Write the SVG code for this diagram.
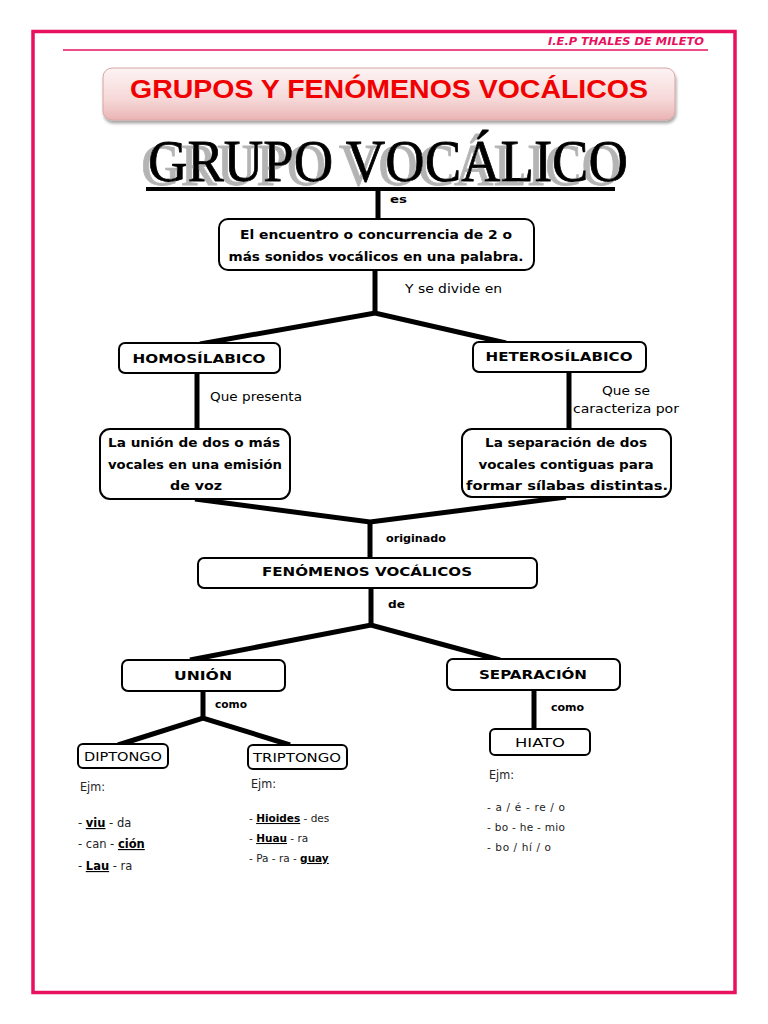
<svg xmlns="http://www.w3.org/2000/svg" width="768" height="1024" viewBox="0 0 768 1024">
<defs>
<linearGradient id="tg" x1="0" y1="0" x2="0" y2="1">
<stop offset="0" stop-color="#fdf3f3"/>
<stop offset="0.6" stop-color="#f6d8d8"/>
<stop offset="1" stop-color="#eab4b4"/>
</linearGradient>
<filter id="sh" x="-5%" y="-20%" width="110%" height="150%">
<feGaussianBlur in="SourceAlpha" stdDeviation="1.5"/>
<feOffset dx="1" dy="3"/>
<feComponentTransfer><feFuncA type="linear" slope="0.35"/></feComponentTransfer>
<feMerge><feMergeNode/><feMergeNode in="SourceGraphic"/></feMerge>
</filter>
<filter id="gs" x="-5%" y="-20%" width="110%" height="150%">
<feFlood flood-color="#b4b4b4"/>
<feComposite in2="SourceAlpha" operator="in"/>
<feOffset dx="-7" dy="4"/>
<feMerge><feMergeNode/><feMergeNode in="SourceGraphic"/></feMerge>
</filter>
</defs>
<style>
.box{fill:#fff;stroke:#000;stroke-width:2}
.con{stroke:#000;stroke-width:5;fill:none}
.bt{font-family:"DejaVu Sans",sans-serif;font-weight:bold;font-size:13px;fill:#000;text-anchor:middle}
.lb{font-family:"DejaVu Sans",sans-serif;font-size:12px;fill:#000}
.lbb{font-family:"DejaVu Sans",sans-serif;font-weight:bold;font-size:10.5px;fill:#000}
.nt{font-family:"DejaVu Sans",sans-serif;font-size:13px;fill:#000;text-anchor:middle}
.ex{font-family:"DejaVu Sans",sans-serif;font-size:11.5px;fill:#222}
.exs{font-family:"DejaVu Sans",sans-serif;font-size:10.5px;fill:#222}
.u{font-weight:bold;text-decoration:underline;fill:#000}
</style>
<rect width="768" height="1024" fill="#fff"/>
<rect x="33" y="31.5" width="702" height="961" fill="none" stroke="#e8115f" stroke-width="3.5"/>
<line x1="63" y1="50" x2="708" y2="50" stroke="#e8115f" stroke-width="1.5"/>
<text x="704" y="45" font-family="'DejaVu Sans',sans-serif" font-size="10" font-weight="bold" font-style="italic" fill="#e8115f" text-anchor="end" textLength="156" lengthAdjust="spacingAndGlyphs">I.E.P THALES DE MILETO</text>

<g id="title">
<rect x="103" y="68" width="572" height="52" rx="9" fill="url(#tg)" stroke="#d8a4a4" stroke-width="1" filter="url(#sh)"/>
<text x="389" y="98" font-family="'Liberation Sans',Arial,sans-serif" font-size="25" font-weight="bold" fill="#f00000" text-anchor="middle" textLength="518" lengthAdjust="spacingAndGlyphs">GRUPOS Y FENÓMENOS VOCÁLICOS</text>
</g>

<g id="grupo-vocalico">
<text x="148" y="181" font-family="'Liberation Serif',serif" font-size="60" fill="#000" stroke="#000" stroke-width="0.8" textLength="480" lengthAdjust="spacingAndGlyphs" filter="url(#gs)">GRUPO VOCÁLICO</text>
<line x1="146" y1="189" x2="615" y2="189" stroke="#000" stroke-width="4"/>
</g>

<g id="connectors">
<line class="con" x1="378" y1="190" x2="378" y2="219"/>
<line class="con" x1="375" y1="270" x2="375" y2="315"/>
<polyline class="con" points="200,344 375,313 506,343"/>
<line class="con" x1="197" y1="373" x2="197" y2="429"/>
<line class="con" x1="569" y1="372" x2="569" y2="429"/>
<polyline class="con" points="195,499 370,522 566,497"/>
<line class="con" x1="370" y1="520" x2="370" y2="558"/>
<line class="con" x1="371" y1="588" x2="371" y2="627"/>
<polyline class="con" points="190,660 371,625 500,660"/>
<line class="con" x1="203" y1="691" x2="203" y2="720"/>
<polyline class="con" points="118,745 203,718 290,745"/>
<line class="con" x1="534" y1="690" x2="534" y2="730"/>
</g>

<g id="labels">
<text class="lbb" x="390" y="203" textLength="17" lengthAdjust="spacingAndGlyphs">es</text>
<text class="lb" x="405" y="293" textLength="97" lengthAdjust="spacingAndGlyphs">Y se divide en</text>
<text class="lb" x="210" y="401" textLength="92" lengthAdjust="spacingAndGlyphs">Que presenta</text>
<text class="lb" x="602" y="395" textLength="48" lengthAdjust="spacingAndGlyphs">Que se</text>
<text class="lb" x="573" y="413" textLength="106" lengthAdjust="spacingAndGlyphs">caracteriza por</text>
<text class="lbb" x="386" y="542" textLength="60" lengthAdjust="spacingAndGlyphs">originado</text>
<text class="lbb" x="388" y="608" textLength="17" lengthAdjust="spacingAndGlyphs">de</text>
<text class="lbb" x="215" y="708" font-family="'Liberation Sans',sans-serif" textLength="32" lengthAdjust="spacingAndGlyphs">como</text>
<text class="lbb" x="551" y="711" font-family="'Liberation Sans',sans-serif" textLength="33" lengthAdjust="spacingAndGlyphs">como</text>
</g>

<g id="definicion">
<rect class="box" x="219" y="219" width="315" height="51" rx="9"/>
<text class="bt" x="376" y="239" textLength="272" lengthAdjust="spacingAndGlyphs">El encuentro o concurrencia de 2 o</text>
<text class="bt" x="376" y="261" textLength="295" lengthAdjust="spacingAndGlyphs">más sonidos vocálicos en una palabra.</text>
</g>

<g id="homosilabico">
<rect class="box" x="119" y="343" width="161" height="30" rx="6"/>
<text class="bt" x="199" y="363" textLength="133" lengthAdjust="spacingAndGlyphs">HOMOSÍLABICO</text>
</g>

<g id="heterosilabico">
<rect class="box" x="473" y="342" width="173" height="30" rx="6"/>
<text class="bt" x="559" y="361" textLength="147" lengthAdjust="spacingAndGlyphs">HETEROSÍLABICO</text>
</g>

<g id="union-def">
<rect class="box" x="100" y="429" width="190" height="70" rx="10"/>
<text class="bt" x="194" y="447" textLength="172" lengthAdjust="spacingAndGlyphs">La unión de dos o más</text>
<text class="bt" x="195" y="469" textLength="174" lengthAdjust="spacingAndGlyphs">vocales en una emisión</text>
<text class="bt" x="196" y="490" textLength="52" lengthAdjust="spacingAndGlyphs">de voz</text>
</g>

<g id="separacion-def">
<rect class="box" x="462" y="429" width="209" height="68" rx="10"/>
<text class="bt" x="566" y="447" textLength="162" lengthAdjust="spacingAndGlyphs">La separación de dos</text>
<text class="bt" x="566" y="469" textLength="175" lengthAdjust="spacingAndGlyphs">vocales contiguas para</text>
<text class="bt" x="567" y="490" textLength="202" lengthAdjust="spacingAndGlyphs">formar sílabas distintas.</text>
</g>

<g id="fenomenos">
<rect class="box" x="198" y="558" width="339" height="30" rx="6"/>
<text class="bt" x="367" y="576" textLength="210" lengthAdjust="spacingAndGlyphs">FENÓMENOS VOCÁLICOS</text>
</g>

<g id="union">
<rect class="box" x="122" y="660" width="163" height="31" rx="6"/>
<text class="bt" x="203" y="680" textLength="58" lengthAdjust="spacingAndGlyphs">UNIÓN</text>
</g>

<g id="separacion">
<rect class="box" x="447" y="659" width="173" height="31" rx="6"/>
<text class="bt" x="533" y="679" textLength="108" lengthAdjust="spacingAndGlyphs">SEPARACIÓN</text>
</g>

<g id="diptongo">
<rect class="box" x="78" y="744" width="90" height="24" rx="5"/>
<text class="nt" x="123" y="761" textLength="78" lengthAdjust="spacingAndGlyphs">DIPTONGO</text>
</g>

<g id="triptongo">
<rect class="box" x="248" y="745" width="99" height="24" rx="5"/>
<text class="nt" x="297" y="762" textLength="88" lengthAdjust="spacingAndGlyphs">TRIPTONGO</text>
</g>

<g id="hiato">
<rect class="box" x="490" y="729" width="100" height="26" rx="5"/>
<text class="nt" x="540" y="747" textLength="50" lengthAdjust="spacingAndGlyphs">HIATO</text>
</g>

<g id="ejemplos">
<text class="ex" x="80" y="791" textLength="25" lengthAdjust="spacingAndGlyphs">Ejm:</text>
<text class="ex" x="78" y="827">- <tspan class="u">viu</tspan> - da</text>
<text class="ex" x="78" y="848">- can - <tspan class="u">ción</tspan></text>
<text class="ex" x="78" y="870">- <tspan class="u">Lau</tspan> - ra</text>

<text class="ex" x="251" y="788" textLength="25" lengthAdjust="spacingAndGlyphs">Ejm:</text>
<text class="exs" x="249" y="822">- <tspan class="u">Hioides</tspan> - des</text>
<text class="exs" x="249" y="842">- <tspan class="u">Huau</tspan> - ra</text>
<text class="exs" x="249" y="862">- Pa - ra - <tspan class="u">guay</tspan></text>

<text class="ex" x="489" y="779" textLength="25" lengthAdjust="spacingAndGlyphs">Ejm:</text>
<text class="exs" x="487" y="811" textLength="78" lengthAdjust="spacing">- a / é - re / o</text>
<text class="exs" x="487" y="831" textLength="78" lengthAdjust="spacing">- bo - he - mio</text>
<text class="exs" x="487" y="851" textLength="64" lengthAdjust="spacing">- bo / hí / o</text>
</g>
</svg>
